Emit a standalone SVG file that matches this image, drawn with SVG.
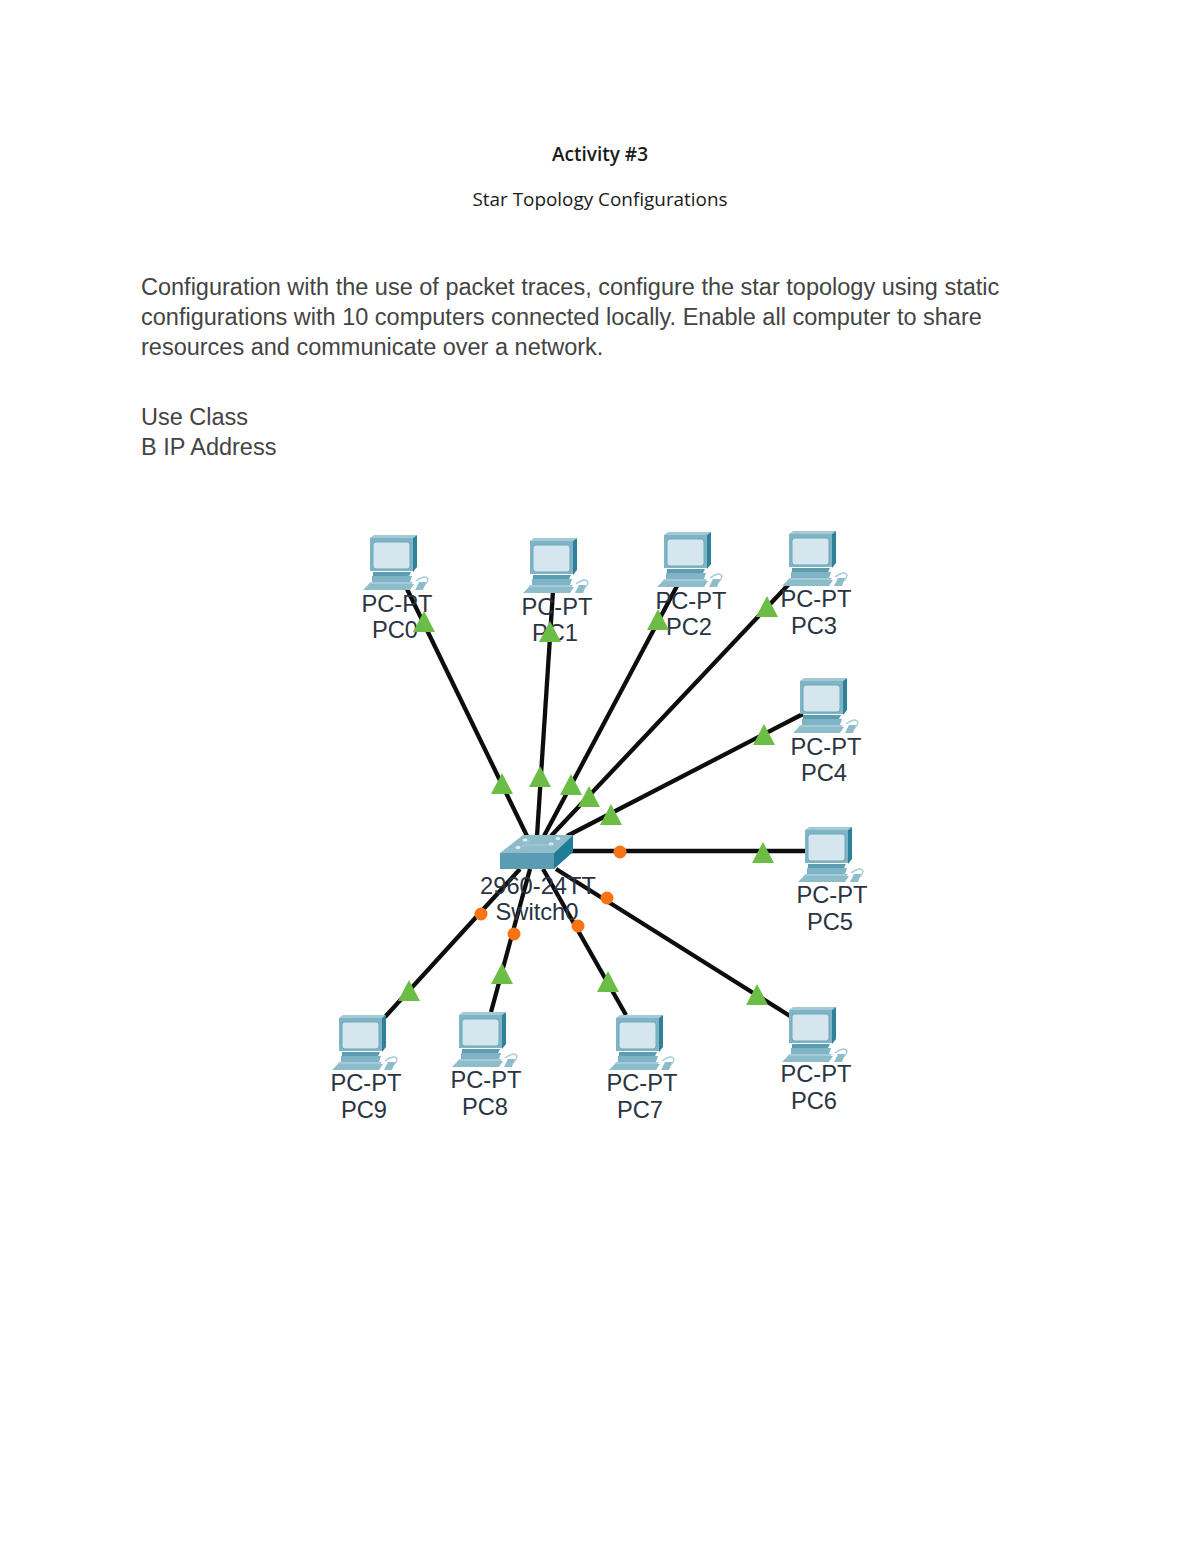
<svg xmlns="http://www.w3.org/2000/svg" width="1200" height="1553" viewBox="0 0 1200 1553">
<style>
.h{font-family:"Open Sans","Noto Sans",sans-serif;fill:#1a1a1a;text-anchor:middle}
.b{font-family:"Liberation Sans",Arial,sans-serif;font-size:23.5px;fill:#444}
.l{font-family:"Liberation Sans",Arial,sans-serif;font-size:23.7px;fill:#2a3442;text-anchor:middle}
.c{stroke:#0d0d0d;stroke-width:4.3;fill:none}
.t{fill:#6cbd45}.o{fill:#f97316}
.p{fill:#e4eff3}
</style>
<defs>
<g id="pc">
<path d="M7 3H50V36H7Z" fill="#7fb4c6"/>
<path d="M7 3L11 0H54L50 3Z" fill="#a3c9d6"/>
<path d="M50 3L54 0V32L50 37Z" fill="#2f8199"/>
<rect x="10" y="7" width="37" height="27" rx="3" fill="#d5e6ee" stroke="#6ea8bb" stroke-width="1"/>
<path d="M10 37H48L46 41H10Z" fill="#5d9db2"/>
<path d="M9 41H49L47 47H9Z" fill="#7fb4c6"/>
<path d="M7 47H50L48 50H5Z" fill="#a6cbd8"/>
<path d="M6 49H51L47 55H0Z" fill="#8dbccb"/>
<path d="M53 46Q63 39 65 44Q64 50 58 52" fill="none" stroke="#a6cbd8" stroke-width="1.5"/>
<path d="M52 55L56 47H63L60 55Z" fill="#8dbccb"/>
</g>
<path id="tri" d="M0 -11L11 10H-11Z"/>
</defs>
<rect width="1200" height="1553" fill="#fff"/>
<text class="h" x="600" y="161" font-size="19" font-weight="600">Activity #3</text>
<text class="h" x="600" y="206" font-size="18.9">Star Topology Configurations</text>
<text class="b" x="141" y="295">Configuration with the use of packet traces, configure the star topology using static</text>
<text class="b" x="141" y="325">configurations with 10 computers connected locally. Enable all computer to share</text>
<text class="b" x="141" y="355">resources and communicate over a network.</text>
<text class="b" x="141" y="425">Use Class</text>
<text class="b" x="141" y="455">B IP Address</text>
<g id="connectors">
<path class="c" d="M407 589L527 836"/>
<path class="c" d="M553 591L537 836"/>
<path class="c" d="M677 586L544 836"/>
<path class="c" d="M789 584L551 836"/>
<path class="c" d="M803 714L567 836"/>
<path class="c" d="M806 851L570 851"/>
<path class="c" d="M790 1016L556 869"/>
<path class="c" d="M626 1015L543 869"/>
<path class="c" d="M491 1012L530 869"/>
<path class="c" d="M385 1017L520 869"/>
</g>
<g id="switch0">
<path d="M500 853L523 835H573L554 853Z" fill="#8fbccb"/>
<path d="M500 853H554V869H500Z" fill="#5a9db2"/>
<path d="M554 853L573 835V852L554 869Z" fill="#1f7d97"/>
<ellipse class="p" cx="518" cy="847.500" rx="2.500" ry="1.500"/><ellipse class="p" cx="551" cy="844" rx="2.500" ry="1.500"/><ellipse class="p" cx="525" cy="840" rx="2.500" ry="1.500"/><ellipse class="p" cx="558" cy="838.500" rx="2.500" ry="1.500"/>
<path d="M524 845H552M530 840L522 847" fill="none" stroke="#a9cdd9" stroke-width="1"/>
<text class="l" x="538" y="894">2960-24TT</text>
<text class="l" x="537" y="920">Switch0</text>
</g>
<g id="pc0"><use href="#pc" x="363" y="535"/><text class="l" x="397" y="612">PC-PT</text><text class="l" x="395" y="638">PC0</text></g>
<g id="pc1"><use href="#pc" x="523" y="538"/><text class="l" x="557" y="615">PC-PT</text><text class="l" x="555" y="641">PC1</text></g>
<g id="pc2"><use href="#pc" x="657" y="532"/><text class="l" x="691" y="609">PC-PT</text><text class="l" x="689" y="635">PC2</text></g>
<g id="pc3"><use href="#pc" x="782" y="531"/><text class="l" x="816" y="607">PC-PT</text><text class="l" x="814" y="634">PC3</text></g>
<g id="pc4"><use href="#pc" x="793" y="678"/><text class="l" x="826" y="755">PC-PT</text><text class="l" x="824" y="781">PC4</text></g>
<g id="pc5"><use href="#pc" x="798" y="827"/><text class="l" x="832" y="903">PC-PT</text><text class="l" x="830" y="930">PC5</text></g>
<g id="pc6"><use href="#pc" x="782" y="1007"/><text class="l" x="816" y="1082">PC-PT</text><text class="l" x="814" y="1109">PC6</text></g>
<g id="pc7"><use href="#pc" x="609" y="1015"/><text class="l" x="642" y="1091">PC-PT</text><text class="l" x="640" y="1118">PC7</text></g>
<g id="pc8"><use href="#pc" x="452" y="1012"/><text class="l" x="486" y="1088">PC-PT</text><text class="l" x="485" y="1115">PC8</text></g>
<g id="pc9"><use href="#pc" x="332" y="1015"/><text class="l" x="366" y="1091">PC-PT</text><text class="l" x="364" y="1118">PC9</text></g>
<g id="status">
<use class="t" href="#tri" x="424" y="622"/><use class="t" href="#tri" x="550" y="632"/><use class="t" href="#tri" x="658" y="620"/><use class="t" href="#tri" x="767" y="607"/><use class="t" href="#tri" x="764" y="735"/><use class="t" href="#tri" x="763" y="853"/><use class="t" href="#tri" x="757" y="995"/><use class="t" href="#tri" x="608" y="982"/><use class="t" href="#tri" x="502" y="974"/><use class="t" href="#tri" x="409" y="991"/>
<use class="t" href="#tri" x="502" y="784"/><use class="t" href="#tri" x="540" y="777"/><use class="t" href="#tri" x="571" y="785"/><use class="t" href="#tri" x="589" y="797"/><use class="t" href="#tri" x="611" y="815"/>
<circle class="o" cx="620" cy="852" r="6.500"/><circle class="o" cx="607" cy="898" r="6.500"/><circle class="o" cx="578" cy="926" r="6.500"/><circle class="o" cx="514" cy="934" r="6.500"/><circle class="o" cx="481" cy="914" r="6.500"/>
</g>
</svg>
